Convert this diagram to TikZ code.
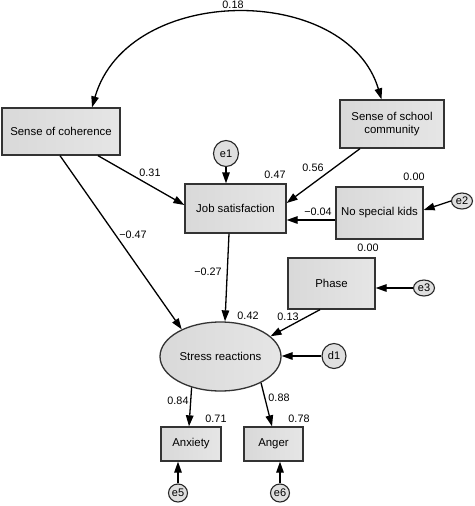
\documentclass[tikz,border=0pt]{standalone}
\usepackage{fontspec}
\setmainfont{Liberation Sans}
\usetikzlibrary{arrows.meta,shapes.geometric,calc}
\begin{document}
\begin{tikzpicture}[x=1pt,y=-1pt,
  box/.style={rectangle,draw=black!80,line width=1.3pt,left color=gray!30,right color=gray!20,
    inner sep=0pt,align=center,font=\fontsize{11.4}{13.5}\selectfont},
  latent/.style={ellipse,draw=black!80,line width=1.3pt,left color=gray!30,right color=gray!20,
    inner sep=0pt,font=\fontsize{11.4}{13.5}\selectfont},
  err/.style={ellipse,draw=black!85,line width=1.1pt,fill=gray!25,inner sep=0pt,
    font=\fontsize{11}{13}\selectfont},
  lbl/.style={inner sep=0pt,font=\fontsize{10.8}{12}\selectfont},
  arr/.style={line width=1.3pt,-{Triangle[length=11pt,width=7.5pt]}},
  darr/.style={line width=1.3pt,{Triangle[length=11pt,width=7.5pt]}-{Triangle[length=11pt,width=7.5pt]}}
]
\useasboundingbox (0,0) rectangle (474,506);

% nodes
\node[box,minimum width=118pt,minimum height=47pt] (coh) at (61,131.5) {Sense of coherence};
\node[box,minimum width=104pt,minimum height=48pt] (school) at (392,124) {Sense of school\\community};
\node[box,minimum width=101pt,minimum height=49pt] (job) at (235.5,208.5) {Job satisfaction};
\node[box,minimum width=87pt,minimum height=52pt] (nsk) at (379.5,213) {No special kids};
\node[box,minimum width=87pt,minimum height=51pt] (phase) at (331.5,283.5) {Phase};
\node[latent,minimum width=121pt,minimum height=69pt] (stress) at (220.5,356.5) {Stress reactions};
\node[box,minimum width=60pt,minimum height=34pt] (anx) at (191,444) {Anxiety};
\node[box,minimum width=59pt,minimum height=34pt] (ang) at (273.5,444) {Anger};

\node[err,minimum width=25pt,minimum height=26pt] (e1) at (226,153.5) {e1};
\node[err,minimum width=21pt,minimum height=16pt] (e2) at (462,201) {e2};
\node[err,minimum width=21pt,minimum height=16pt] (e3) at (424,288) {e3};
\node[err,minimum width=24pt,minimum height=25pt] (d1) at (334,356) {d1};
\node[err,minimum width=19pt,minimum height=18pt] (e5) at (178,493) {e5};
\node[err,minimum width=19pt,minimum height=18pt] (e6) at (280,493) {e6};

% connectors
\draw[darr] ($(coh.north west)!0.76!(coh.north east)$) .. controls (128,-17) and (347,-17) .. ($(school.north west)!0.40!(school.north east)$);
\draw[arr] ([xshift=37pt]coh.south) -- ([yshift=3.5pt]job.west);
\draw[arr] ([xshift=-1pt]coh.south) -- (stress.145);
\draw[arr] ([xshift=-32pt]school.south) -- ([yshift=5.5pt]job.east);
\draw[arr] (e1.south) -- (e1.south |- job.north);
\draw[arr] ([yshift=-7pt]nsk.west) -- ([yshift=-7pt]nsk.west -| job.east);
\draw[arr] (e2.west) -- ([yshift=3pt]nsk.east);
\draw[arr] ([xshift=-6.5pt]job.south) -- ([xshift=4.5pt]stress.north);
\draw[arr] ([xshift=-11.5pt]phase.south) -- (stress.22);
\draw[arr] (e3.west) -- (e3.west -| phase.east);
\draw[arr] (d1.west) -- (d1.west -| stress.east);
\draw[arr] (stress.227) -- ([xshift=-2pt]anx.north);
\draw[arr] (stress.327) -- ([xshift=-1.5pt]ang.north);
\draw[arr] (e5.north) -- (e5.north |- anx.south);
\draw[arr] (e6.north) -- (e6.north |- ang.south);

% labels
\node[lbl] (l018) at (233,4.5) {0.18};
\node[lbl] (l031) at (150,173) {0.31};
\node[lbl] (l056) at (313,168) {0.56};
\node[lbl] (l047b) at (275,175) {0.47};
\node[lbl] (l000a) at (414,177) {0.00};
\node[lbl] (l004) at (318,212) {−0.04};
\node[lbl] (l047) at (133,235) {−0.47};
\node[lbl] (l027) at (208,272) {−0.27};
\node[lbl] (l000b) at (368,248) {0.00};
\node[lbl] (l042) at (248,316) {0.42};
\node[lbl] (l013) at (288,317) {0.13};
\node[lbl] (l084) at (178,401) {0.84};
\node[lbl] (l088) at (279,398) {0.88};
\node[lbl] (l071) at (216,419) {0.71};
\node[lbl] (l078) at (299,419) {0.78};
\end{tikzpicture}
\end{document}
